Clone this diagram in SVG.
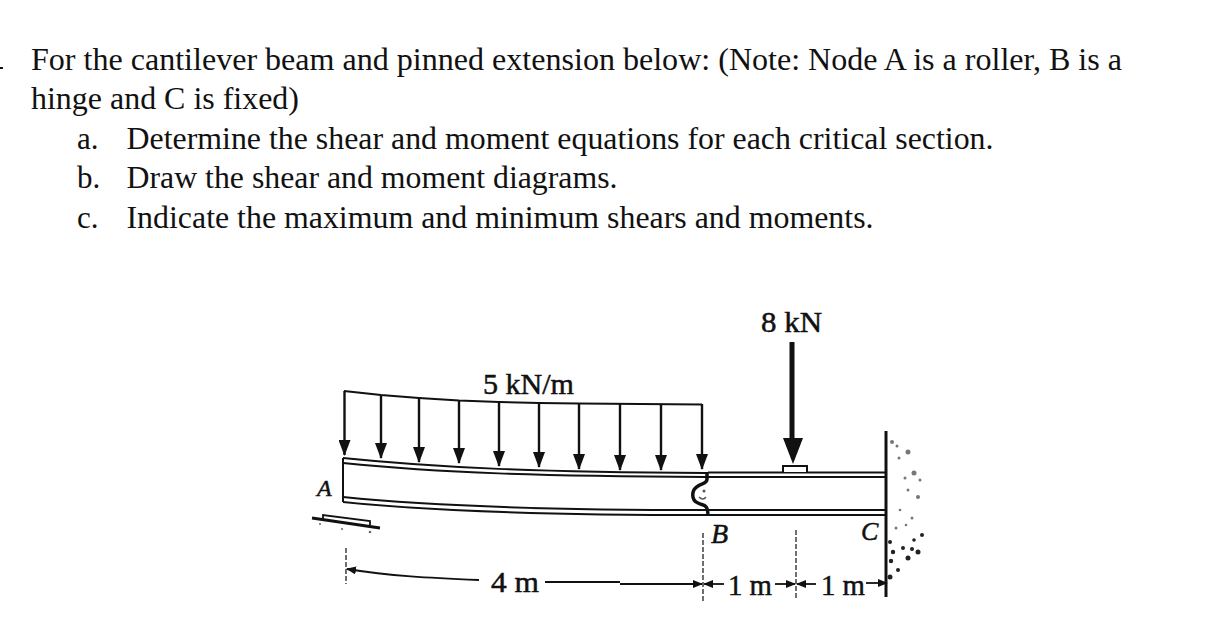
<svg xmlns="http://www.w3.org/2000/svg" width="1212" height="640" viewBox="0 0 1212 640">
<defs>
<style>
.t{font-family:"Liberation Serif","Times New Roman",serif;font-size:31px;fill:#111}
.d{font-family:"Liberation Serif","Times New Roman",serif;font-size:29px;fill:#111;stroke:#111;stroke-width:.5}
.l{fill:none;stroke:#111;stroke-width:2}
.b{fill:none;stroke:#111;stroke-width:2}
.a{fill:none;stroke:#111;stroke-width:2.400;marker-end:url(#h)}
.q{fill:none;stroke:#333;stroke-width:1.400;stroke-dasharray:5 2}
.e{fill:none;stroke:#111;stroke-width:1.800}
.s{fill:#666}
</style>
<marker id="h" viewBox="0 0 12 16" refX="6" refY="15" markerUnits="userSpaceOnUse" markerWidth="12" markerHeight="16" orient="0"><path d="M0 0H12L6 16Z" fill="#111"/></marker>
<marker id="s" viewBox="0 0 10 8" refX="9" refY="4" markerUnits="userSpaceOnUse" markerWidth="10" markerHeight="8" orient="auto-start-reverse"><path d="M0 0L10 4L0 8Z" fill="#111"/></marker>
</defs>
<rect width="1212" height="640" fill="#fff"/>
<g id="question">
<rect x="0" y="67" width="3" height="2" fill="#111"/>
<text class="t" x="31" y="70" textLength="1091" lengthAdjust="spacingAndGlyphs">For the cantilever beam and pinned extension below: (Note: Node A is a roller, B is a</text>
<text class="t" x="31" y="109" textLength="268" lengthAdjust="spacingAndGlyphs">hinge and C is fixed)</text>
<text class="t" x="77" y="149">a.</text>
<text class="t" x="126.500" y="149" textLength="867" lengthAdjust="spacingAndGlyphs">Determine the shear and moment equations for each critical section.</text>
<text class="t" x="77" y="188">b.</text>
<text class="t" x="126.500" y="188" textLength="491" lengthAdjust="spacingAndGlyphs">Draw the shear and moment diagrams.</text>
<text class="t" x="77" y="228">c.</text>
<text class="t" x="126.500" y="228" textLength="747" lengthAdjust="spacingAndGlyphs">Indicate the maximum and minimum shears and moments.</text>
</g>
<g id="connectors">
<path class="l" d="M344 391L381 395L419 398L459 400.500L499 402L539 403L579 403.500L702 404.500"/>
<path class="a" d="M344.500 391V455"/>
<path class="a" d="M381 395V458"/>
<path class="a" d="M419 398V462"/>
<path class="a" d="M459 400V463"/>
<path class="a" d="M499 402V466"/>
<path class="a" d="M539 403V467"/>
<path class="a" d="M579 404V469"/>
<path class="a" d="M620 404V470"/>
<path class="a" d="M661 404V470"/>
<path class="a" d="M702 404V469"/>
<path d="M792 342V450" fill="none" stroke="#111" stroke-width="5"/>
<path d="M783 438H803L793 464Z" fill="#111"/>
<path class="q" d="M346 548V584"/>
<path class="q" d="M703 533V602"/>
<path class="q" d="M796 530V600"/>
<path class="e" marker-start="url(#s)" d="M347 569C390 576 430 578 479 580"/>
<path class="e" d="M545 582H620"/>
<path class="e" marker-end="url(#s)" d="M620 584H702"/>
<path class="e" marker-start="url(#s)" d="M704 584H724"/>
<path class="e" marker-end="url(#s)" d="M775 584H795"/>
<path class="e" marker-start="url(#s)" d="M797 584H816"/>
<path class="e" marker-end="url(#s)" d="M866 583H887"/>
</g>
<g id="beam">
<path class="b" d="M343 458C440 468 540 472 706 473"/>
<path class="b" d="M343 463C440 473 540 476 706 477"/>
<path class="b" d="M343 497C440 507 560 510 707 510"/>
<path class="b" d="M343 502C440 512 560 515 707 515"/>
<path class="b" d="M708 472.500H885M708 477H885"/>
<path class="b" d="M708 510H885M708 515H885"/>
<path class="l" d="M343 458V502"/>
<path d="M783 472V466H807V472" fill="#fff" stroke="#111" stroke-width="2"/>
</g>
<g id="node-a">
<text class="d" x="317" y="496" font-style="italic" style="font-size:24px">A</text>
<path d="M312 518L380 528" stroke="#111" stroke-width="3" fill="none"/>
<path d="M323 520V515L370 521V525" stroke="#111" stroke-width="1.800" fill="none"/>
<circle class="s" cx="320" cy="524" r="1"/><circle class="s" cx="342" cy="529" r="1"/><circle class="s" cx="370" cy="532" r="1.300"/>
</g>
<g id="node-b">
<path d="M707 472V479C707 484 702 483 698 486C691 490 691 500 698 503C703 506 708 503 708 516" fill="#fff" stroke="#111" stroke-width="3.500"/>
<circle cx="704" cy="491" r="1.500" fill="#555"/><path d="M699 497Q703 501 706 497" fill="none" stroke="#555" stroke-width="1.500"/>
<text class="d" x="711" y="543" font-style="italic" style="font-size:28px">B</text>
</g>
<g id="node-c">
<path d="M886 431V597" stroke="#111" stroke-width="3" fill="none"/>
<text class="d" x="861" y="540" font-style="italic" style="font-size:26px">C</text>
<g fill="#777">
<circle cx="892" cy="442" r="2"/><circle cx="908" cy="452" r="2.500"/><circle cx="899" cy="458" r="1.500"/><circle cx="897" cy="446" r="1.500"/><circle cx="914" cy="473" r="2.500"/><circle cx="920" cy="480" r="1.500"/><circle cx="908" cy="490" r="1.500"/><circle cx="918" cy="497" r="2"/><circle cx="905" cy="478" r="1.500"/><circle cx="900" cy="510" r="1.300"/><circle cx="912" cy="518" r="1.500"/><circle cx="896" cy="528" r="1.500"/><circle cx="906" cy="525" r="1.300"/>
</g>
<g fill="#222">
<circle cx="890" cy="542" r="2"/><circle cx="893" cy="552" r="2.200"/><circle cx="891" cy="561" r="2.200"/><circle cx="903" cy="548" r="2"/><circle cx="908" cy="558" r="2.500"/><circle cx="918" cy="552" r="2.500"/><circle cx="922" cy="535" r="2"/><circle cx="914" cy="540" r="1.800"/><circle cx="898" cy="570" r="2"/><circle cx="890" cy="577" r="2.500"/><circle cx="912" cy="549" r="2"/>
</g>
</g>
<g id="labels">
<text class="d" x="483" y="394" textLength="91" lengthAdjust="spacingAndGlyphs">5 kN/m</text>
<text class="d" x="761" y="332" textLength="61" lengthAdjust="spacingAndGlyphs">8 kN</text>
<text class="d" x="491" y="592" textLength="48" lengthAdjust="spacingAndGlyphs">4 m</text>
<text class="d" x="728" y="595" textLength="44" lengthAdjust="spacingAndGlyphs">1 m</text>
<text class="d" x="821" y="595" textLength="44" lengthAdjust="spacingAndGlyphs">1 m</text>
</g>
</svg>
